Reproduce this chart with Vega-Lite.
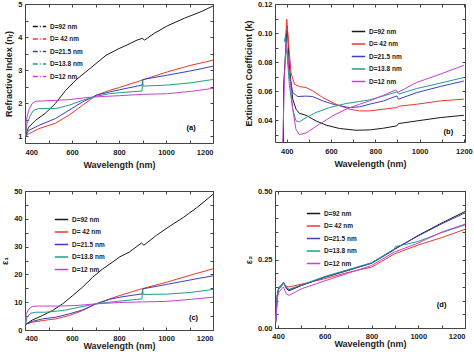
{
  "$schema": "https://vega.github.io/schema/vega-lite/v6.json",
  "padding": {"left": 0, "top": 0, "right": 0, "bottom": 0},
  "background": "white",
  "config": {
    "font": "Liberation Sans",
    "view": {"stroke": null},
    "axis": {
      "labelFont": "Liberation Sans", "labelFontWeight": "bold", "labelFontSize": 7.5, "labelColor": "#222",
      "titleFont": "Liberation Sans", "titleFontWeight": "bold", "titleFontSize": 9, "titleColor": "#222",
      "domainColor": "#444", "tickColor": "#444", "grid": false, "tickSize": -3, "labelPadding": 6, "titlePadding": 4
    },
    "axisX": {"labelPadding": 8, "titlePadding": 5},
    "legend": {
      "labelFont": "Liberation Sans", "labelFontWeight": "bold", "labelFontSize": 6.5, "labelColor": "#222",
      "symbolType": "stroke", "symbolStrokeWidth": 1.5, "symbolSize": 180, "rowPadding": 1.5, "labelOffset": 3, "padding": 0
    }
  },
  "resolve": {"scale": {"color": "independent"}, "legend": {"color": "independent"}},
  "columns": 2,
  "align": "each",
  "spacing": {"row": 17, "column": 30},
  "datasets": {
    "a": [
      {"s":"D=92 nm","x":402,"y":1.0},{"s":"D=92 nm","x":408,"y":1.15},{"s":"D=92 nm","x":416,"y":1.28},{"s":"D=92 nm","x":444,"y":1.48},{"s":"D=92 nm","x":487,"y":1.7},{"s":"D=92 nm","x":530,"y":2.0},{"s":"D=92 nm","x":573,"y":2.39},{"s":"D=92 nm","x":616,"y":2.7},{"s":"D=92 nm","x":659,"y":2.95},{"s":"D=92 nm","x":702,"y":3.2},{"s":"D=92 nm","x":745,"y":3.45},{"s":"D=92 nm","x":796,"y":3.64},{"s":"D=92 nm","x":834,"y":3.76},{"s":"D=92 nm","x":877,"y":3.91},{"s":"D=92 nm","x":899,"y":3.96},{"s":"D=92 nm","x":909,"y":3.91},{"s":"D=92 nm","x":949,"y":4.11},{"s":"D=92 nm","x":1006,"y":4.34},{"s":"D=92 nm","x":1078,"y":4.57},{"s":"D=92 nm","x":1150,"y":4.77},{"s":"D=92 nm","x":1200,"y":4.94},
      {"s":"D= 42 nm","x":402,"y":1.0},{"s":"D= 42 nm","x":416,"y":1.08},{"s":"D= 42 nm","x":458,"y":1.23},{"s":"D= 42 nm","x":530,"y":1.4},{"s":"D= 42 nm","x":587,"y":1.64},{"s":"D= 42 nm","x":645,"y":1.94},{"s":"D= 42 nm","x":702,"y":2.24},{"s":"D= 42 nm","x":759,"y":2.39},{"s":"D= 42 nm","x":803,"y":2.48},{"s":"D= 42 nm","x":899,"y":2.7},{"s":"D= 42 nm","x":1006,"y":2.95},{"s":"D= 42 nm","x":1106,"y":3.15},{"s":"D= 42 nm","x":1200,"y":3.3},
      {"s":"D=21.5 nm","x":402,"y":1.0},{"s":"D=21.5 nm","x":416,"y":1.18},{"s":"D=21.5 nm","x":458,"y":1.33},{"s":"D=21.5 nm","x":530,"y":1.54},{"s":"D=21.5 nm","x":587,"y":1.79},{"s":"D=21.5 nm","x":645,"y":2.04},{"s":"D=21.5 nm","x":702,"y":2.24},{"s":"D=21.5 nm","x":759,"y":2.34},{"s":"D=21.5 nm","x":803,"y":2.41},{"s":"D=21.5 nm","x":898,"y":2.55},{"s":"D=21.5 nm","x":902,"y":2.72},{"s":"D=21.5 nm","x":1006,"y":2.85},{"s":"D=21.5 nm","x":1106,"y":2.98},{"s":"D=21.5 nm","x":1200,"y":3.12},
      {"s":"D=13.8 nm","x":402,"y":1.0},{"s":"D=13.8 nm","x":409,"y":1.39},{"s":"D=13.8 nm","x":423,"y":1.64},{"s":"D=13.8 nm","x":437,"y":1.79},{"s":"D=13.8 nm","x":458,"y":1.84},{"s":"D=13.8 nm","x":530,"y":1.84},{"s":"D=13.8 nm","x":587,"y":1.94},{"s":"D=13.8 nm","x":645,"y":2.09},{"s":"D=13.8 nm","x":702,"y":2.21},{"s":"D=13.8 nm","x":759,"y":2.29},{"s":"D=13.8 nm","x":803,"y":2.32},{"s":"D=13.8 nm","x":898,"y":2.37},{"s":"D=13.8 nm","x":900,"y":2.73},{"s":"D=13.8 nm","x":903,"y":2.52},{"s":"D=13.8 nm","x":1006,"y":2.55},{"s":"D=13.8 nm","x":1106,"y":2.62},{"s":"D=13.8 nm","x":1200,"y":2.72},
      {"s":"D=12 nm","x":402,"y":1.0},{"s":"D=12 nm","x":405,"y":1.48},{"s":"D=12 nm","x":416,"y":1.79},{"s":"D=12 nm","x":430,"y":1.99},{"s":"D=12 nm","x":444,"y":2.06},{"s":"D=12 nm","x":473,"y":2.07},{"s":"D=12 nm","x":587,"y":2.11},{"s":"D=12 nm","x":673,"y":2.18},{"s":"D=12 nm","x":745,"y":2.21},{"s":"D=12 nm","x":803,"y":2.23},{"s":"D=12 nm","x":899,"y":2.27},{"s":"D=12 nm","x":1006,"y":2.29},{"s":"D=12 nm","x":1106,"y":2.36},{"s":"D=12 nm","x":1200,"y":2.45}
    ],
    "b": [
      {"s":"D=92 nm","x":385,"y":0.025},{"s":"D=92 nm","x":386,"y":0.064},{"s":"D=92 nm","x":396,"y":0.09},{"s":"D=92 nm","x":402,"y":0.105},{"s":"D=92 nm","x":412,"y":0.0774},{"s":"D=92 nm","x":427,"y":0.0545},{"s":"D=92 nm","x":442,"y":0.0476},{"s":"D=92 nm","x":457,"y":0.0448},{"s":"D=92 nm","x":487,"y":0.0434},{"s":"D=92 nm","x":532,"y":0.0395},{"s":"D=92 nm","x":578,"y":0.0366},{"s":"D=92 nm","x":638,"y":0.0343},{"s":"D=92 nm","x":713,"y":0.0331},{"s":"D=92 nm","x":774,"y":0.0333},{"s":"D=92 nm","x":837,"y":0.0345},{"s":"D=92 nm","x":897,"y":0.0361},{"s":"D=92 nm","x":905,"y":0.0377},{"s":"D=92 nm","x":987,"y":0.0395},{"s":"D=92 nm","x":1093,"y":0.0418},{"s":"D=92 nm","x":1200,"y":0.0434},
      {"s":"D= 42 nm","x":394,"y":0.095},{"s":"D= 42 nm","x":400,"y":0.1095},{"s":"D= 42 nm","x":419,"y":0.0728},{"s":"D= 42 nm","x":435,"y":0.0648},{"s":"D= 42 nm","x":457,"y":0.0632},{"s":"D= 42 nm","x":487,"y":0.0625},{"s":"D= 42 nm","x":517,"y":0.0602},{"s":"D= 42 nm","x":563,"y":0.0556},{"s":"D= 42 nm","x":623,"y":0.051},{"s":"D= 42 nm","x":683,"y":0.0476},{"s":"D= 42 nm","x":729,"y":0.0464},{"s":"D= 42 nm","x":774,"y":0.0464},{"s":"D= 42 nm","x":837,"y":0.0476},{"s":"D= 42 nm","x":897,"y":0.0487},{"s":"D= 42 nm","x":908,"y":0.0497},{"s":"D= 42 nm","x":987,"y":0.051},{"s":"D= 42 nm","x":1093,"y":0.0533},{"s":"D= 42 nm","x":1200,"y":0.0545},
      {"s":"D=21.5 nm","x":391,"y":0.094},{"s":"D=21.5 nm","x":395,"y":0.0985},{"s":"D=21.5 nm","x":412,"y":0.0705},{"s":"D=21.5 nm","x":427,"y":0.0591},{"s":"D=21.5 nm","x":449,"y":0.0563},{"s":"D=21.5 nm","x":487,"y":0.0566},{"s":"D=21.5 nm","x":517,"y":0.0563},{"s":"D=21.5 nm","x":563,"y":0.0533},{"s":"D=21.5 nm","x":623,"y":0.0504},{"s":"D=21.5 nm","x":683,"y":0.0487},{"s":"D=21.5 nm","x":729,"y":0.0492},{"s":"D=21.5 nm","x":774,"y":0.051},{"s":"D=21.5 nm","x":837,"y":0.0533},{"s":"D=21.5 nm","x":897,"y":0.0567},{"s":"D=21.5 nm","x":905,"y":0.0545},{"s":"D=21.5 nm","x":987,"y":0.059},{"s":"D=21.5 nm","x":1093,"y":0.0632},{"s":"D=21.5 nm","x":1200,"y":0.067},
      {"s":"D=13.8 nm","x":391,"y":0.094},{"s":"D=13.8 nm","x":395,"y":0.098},{"s":"D=13.8 nm","x":412,"y":0.064},{"s":"D=13.8 nm","x":427,"y":0.0476},{"s":"D=13.8 nm","x":442,"y":0.0395},{"s":"D=13.8 nm","x":457,"y":0.0388},{"s":"D=13.8 nm","x":487,"y":0.0418},{"s":"D=13.8 nm","x":532,"y":0.0453},{"s":"D=13.8 nm","x":593,"y":0.0487},{"s":"D=13.8 nm","x":668,"y":0.0515},{"s":"D=13.8 nm","x":729,"y":0.0529},{"s":"D=13.8 nm","x":774,"y":0.054},{"s":"D=13.8 nm","x":837,"y":0.0567},{"s":"D=13.8 nm","x":897,"y":0.0595},{"s":"D=13.8 nm","x":905,"y":0.058},{"s":"D=13.8 nm","x":987,"y":0.0618},{"s":"D=13.8 nm","x":1093,"y":0.0655},{"s":"D=13.8 nm","x":1200,"y":0.0694},
      {"s":"D=12 nm","x":382,"y":0.025},{"s":"D=12 nm","x":390,"y":0.07},{"s":"D=12 nm","x":397,"y":0.0935},{"s":"D=12 nm","x":412,"y":0.0728},{"s":"D=12 nm","x":427,"y":0.0476},{"s":"D=12 nm","x":442,"y":0.0335},{"s":"D=12 nm","x":457,"y":0.0301},{"s":"D=12 nm","x":487,"y":0.0312},{"s":"D=12 nm","x":548,"y":0.0373},{"s":"D=12 nm","x":608,"y":0.043},{"s":"D=12 nm","x":668,"y":0.0476},{"s":"D=12 nm","x":729,"y":0.051},{"s":"D=12 nm","x":774,"y":0.0533},{"s":"D=12 nm","x":837,"y":0.0572},{"s":"D=12 nm","x":890,"y":0.0608},{"s":"D=12 nm","x":905,"y":0.0594},{"s":"D=12 nm","x":987,"y":0.066},{"s":"D=12 nm","x":1093,"y":0.0717},{"s":"D=12 nm","x":1200,"y":0.0778}
    ],
    "c": [
      {"s":"D=92 nm","x":402,"y":2.0},{"s":"D=92 nm","x":431,"y":3.6},{"s":"D=92 nm","x":474,"y":5.2},{"s":"D=92 nm","x":517,"y":7.0},{"s":"D=92 nm","x":560,"y":9.4},{"s":"D=92 nm","x":603,"y":12.4},{"s":"D=92 nm","x":645,"y":15.4},{"s":"D=92 nm","x":688,"y":19.0},{"s":"D=92 nm","x":731,"y":22.0},{"s":"D=92 nm","x":774,"y":24.5},{"s":"D=92 nm","x":803,"y":26.3},{"s":"D=92 nm","x":845,"y":28.1},{"s":"D=92 nm","x":896,"y":31.3},{"s":"D=92 nm","x":906,"y":30.5},{"s":"D=92 nm","x":960,"y":34.1},{"s":"D=92 nm","x":1017,"y":37.4},{"s":"D=92 nm","x":1074,"y":40.5},{"s":"D=92 nm","x":1131,"y":44.0},{"s":"D=92 nm","x":1200,"y":48.8},
      {"s":"D= 42 nm","x":402,"y":2.0},{"s":"D= 42 nm","x":431,"y":2.8},{"s":"D= 42 nm","x":474,"y":3.4},{"s":"D= 42 nm","x":531,"y":4.0},{"s":"D= 42 nm","x":588,"y":5.2},{"s":"D= 42 nm","x":645,"y":7.0},{"s":"D= 42 nm","x":702,"y":9.4},{"s":"D= 42 nm","x":760,"y":11.2},{"s":"D= 42 nm","x":803,"y":12.4},{"s":"D= 42 nm","x":896,"y":14.8},{"s":"D= 42 nm","x":1003,"y":17.2},{"s":"D= 42 nm","x":1103,"y":19.7},{"s":"D= 42 nm","x":1200,"y":22.0},
      {"s":"D=21.5 nm","x":402,"y":2.0},{"s":"D=21.5 nm","x":431,"y":3.1},{"s":"D=21.5 nm","x":474,"y":4.0},{"s":"D=21.5 nm","x":531,"y":4.6},{"s":"D=21.5 nm","x":588,"y":5.8},{"s":"D=21.5 nm","x":645,"y":7.2},{"s":"D=21.5 nm","x":702,"y":9.4},{"s":"D=21.5 nm","x":760,"y":11.0},{"s":"D=21.5 nm","x":803,"y":11.8},{"s":"D=21.5 nm","x":898,"y":13.0},{"s":"D=21.5 nm","x":902,"y":14.8},{"s":"D=21.5 nm","x":1003,"y":16.4},{"s":"D=21.5 nm","x":1103,"y":18.0},{"s":"D=21.5 nm","x":1200,"y":19.5},
      {"s":"D=13.8 nm","x":402,"y":2.0},{"s":"D=13.8 nm","x":409,"y":4.6},{"s":"D=13.8 nm","x":423,"y":6.0},{"s":"D=13.8 nm","x":445,"y":6.4},{"s":"D=13.8 nm","x":488,"y":6.4},{"s":"D=13.8 nm","x":560,"y":7.0},{"s":"D=13.8 nm","x":631,"y":8.2},{"s":"D=13.8 nm","x":702,"y":9.4},{"s":"D=13.8 nm","x":760,"y":10.0},{"s":"D=13.8 nm","x":803,"y":10.4},{"s":"D=13.8 nm","x":898,"y":11.2},{"s":"D=13.8 nm","x":900,"y":14.8},{"s":"D=13.8 nm","x":903,"y":12.8},{"s":"D=13.8 nm","x":1003,"y":12.9},{"s":"D=13.8 nm","x":1103,"y":13.5},{"s":"D=13.8 nm","x":1200,"y":14.6},
      {"s":"D=12 nm","x":402,"y":2.0},{"s":"D=12 nm","x":405,"y":5.8},{"s":"D=12 nm","x":417,"y":7.6},{"s":"D=12 nm","x":431,"y":8.5},{"s":"D=12 nm","x":452,"y":8.6},{"s":"D=12 nm","x":531,"y":8.6},{"s":"D=12 nm","x":617,"y":8.8},{"s":"D=12 nm","x":702,"y":9.4},{"s":"D=12 nm","x":803,"y":9.9},{"s":"D=12 nm","x":896,"y":10.1},{"s":"D=12 nm","x":1003,"y":10.3},{"s":"D=12 nm","x":1103,"y":11.0},{"s":"D=12 nm","x":1200,"y":11.8}
    ],
    "d": [
      {"s":"D=92 nm","x":390,"y":0.02},{"s":"D=92 nm","x":397,"y":0.12},{"s":"D=92 nm","x":403,"y":0.145},{"s":"D=92 nm","x":418,"y":0.158},{"s":"D=92 nm","x":423,"y":0.166},{"s":"D=92 nm","x":435,"y":0.145},{"s":"D=92 nm","x":447,"y":0.136},{"s":"D=92 nm","x":500,"y":0.155},{"s":"D=92 nm","x":600,"y":0.186},{"s":"D=92 nm","x":700,"y":0.211},{"s":"D=92 nm","x":800,"y":0.237},{"s":"D=92 nm","x":897,"y":0.287},{"s":"D=92 nm","x":905,"y":0.29},{"s":"D=92 nm","x":1000,"y":0.338},{"s":"D=92 nm","x":1100,"y":0.383},{"s":"D=92 nm","x":1200,"y":0.425},
      {"s":"D= 42 nm","x":390,"y":0.02},{"s":"D= 42 nm","x":397,"y":0.115},{"s":"D= 42 nm","x":403,"y":0.14},{"s":"D= 42 nm","x":418,"y":0.156},{"s":"D= 42 nm","x":423,"y":0.163},{"s":"D= 42 nm","x":435,"y":0.153},{"s":"D= 42 nm","x":447,"y":0.15},{"s":"D= 42 nm","x":500,"y":0.16},{"s":"D= 42 nm","x":600,"y":0.18},{"s":"D= 42 nm","x":700,"y":0.203},{"s":"D= 42 nm","x":800,"y":0.222},{"s":"D= 42 nm","x":897,"y":0.27},{"s":"D= 42 nm","x":1000,"y":0.303},{"s":"D= 42 nm","x":1100,"y":0.33},{"s":"D= 42 nm","x":1200,"y":0.36},
      {"s":"D=21.5 nm","x":390,"y":0.025},{"s":"D=21.5 nm","x":397,"y":0.125},{"s":"D=21.5 nm","x":403,"y":0.148},{"s":"D=21.5 nm","x":418,"y":0.16},{"s":"D=21.5 nm","x":423,"y":0.167},{"s":"D=21.5 nm","x":435,"y":0.15},{"s":"D=21.5 nm","x":447,"y":0.14},{"s":"D=21.5 nm","x":500,"y":0.156},{"s":"D=21.5 nm","x":600,"y":0.185},{"s":"D=21.5 nm","x":700,"y":0.21},{"s":"D=21.5 nm","x":800,"y":0.236},{"s":"D=21.5 nm","x":897,"y":0.285},{"s":"D=21.5 nm","x":905,"y":0.292},{"s":"D=21.5 nm","x":1000,"y":0.336},{"s":"D=21.5 nm","x":1100,"y":0.38},{"s":"D=21.5 nm","x":1200,"y":0.42},
      {"s":"D=13.8 nm","x":390,"y":0.025},{"s":"D=13.8 nm","x":397,"y":0.12},{"s":"D=13.8 nm","x":403,"y":0.145},{"s":"D=13.8 nm","x":418,"y":0.158},{"s":"D=13.8 nm","x":423,"y":0.165},{"s":"D=13.8 nm","x":435,"y":0.148},{"s":"D=13.8 nm","x":447,"y":0.141},{"s":"D=13.8 nm","x":500,"y":0.157},{"s":"D=13.8 nm","x":600,"y":0.188},{"s":"D=13.8 nm","x":700,"y":0.213},{"s":"D=13.8 nm","x":800,"y":0.238},{"s":"D=13.8 nm","x":897,"y":0.288},{"s":"D=13.8 nm","x":902,"y":0.297},{"s":"D=13.8 nm","x":1000,"y":0.316},{"s":"D=13.8 nm","x":1100,"y":0.348},{"s":"D=13.8 nm","x":1200,"y":0.376},
      {"s":"D=12 nm","x":390,"y":0.02},{"s":"D=12 nm","x":397,"y":0.11},{"s":"D=12 nm","x":403,"y":0.13},{"s":"D=12 nm","x":418,"y":0.145},{"s":"D=12 nm","x":423,"y":0.15},{"s":"D=12 nm","x":435,"y":0.125},{"s":"D=12 nm","x":447,"y":0.119},{"s":"D=12 nm","x":500,"y":0.143},{"s":"D=12 nm","x":600,"y":0.172},{"s":"D=12 nm","x":700,"y":0.2},{"s":"D=12 nm","x":800,"y":0.228},{"s":"D=12 nm","x":897,"y":0.277},{"s":"D=12 nm","x":1000,"y":0.31},{"s":"D=12 nm","x":1100,"y":0.35},{"s":"D=12 nm","x":1200,"y":0.379}
    ]
  },
  "concat": [
    {
      "width": 188, "height": 139,
      "resolve": {"axis": {"x": "independent", "y": "independent"}},
      "layer": [
        {"data": {"name": "a"}, "mark": {"type": "line", "strokeWidth": 1, "clip": true},
         "encoding": {
           "x": {"field": "x", "type": "quantitative", "scale": {"domain": [400, 1200], "nice": false, "zero": false},
                 "axis": {"orient": "bottom", "title": "Wavelength (nm)", "values": [400,500,600,700,800,900,1000,1100,1200], "labelExpr": "datum.value % 200 == 0 ? datum.label : ''", "format": "d"}},
           "y": {"field": "y", "type": "quantitative", "scale": {"domain": [0.8, 5], "nice": false, "zero": false},
                 "axis": {"orient": "left", "title": "Refractive Index (nᵣ)", "values": [1,1.5,2,2.5,3,3.5,4,4.5,5], "labelExpr": "datum.value % 1 == 0 ? datum.label : ''", "format": ".0f"}},
           "color": {"field": "s", "type": "nominal", "sort": null,
                     "scale": {"domain": ["D=92 nm","D= 42 nm","D=21.5 nm","D=13.8 nm","D=12 nm"], "range": ["#1a1a1a","#f2352b","#3b3fc6","#1f9e86","#c83fd6"]},
                     "legend": {"orient": "none", "legendX": 7, "legendY": 15, "title": null, "symbolDash": [5, 2, 1, 2]}}
         }},
        {"data": {"values": [{"x": 1107, "y": 1.24, "t": "(a)"}]}, "mark": {"type": "text", "fontWeight": "bold", "fontSize": 7.5, "font": "Liberation Sans"},
         "encoding": {
           "x": {"field": "x", "type": "quantitative", "scale": {"domain": [400, 1200], "nice": false, "zero": false},
                 "axis": {"orient": "top", "labels": false, "title": null, "values": [400,500,600,700,800,900,1000,1100,1200]}},
           "y": {"field": "y", "type": "quantitative", "scale": {"domain": [0.8, 5], "nice": false, "zero": false},
                 "axis": {"orient": "right", "labels": false, "title": null, "values": [1,1.5,2,2.5,3,3.5,4,4.5,5]}},
           "text": {"field": "t"}
         }}
      ]
    },
    {
      "width": 190, "height": 138,
      "resolve": {"axis": {"x": "independent", "y": "independent"}},
      "layer": [
        {"data": {"name": "b"}, "mark": {"type": "line", "strokeWidth": 1, "clip": true},
         "encoding": {
           "x": {"field": "x", "type": "quantitative", "scale": {"domain": [347, 1205], "nice": false, "zero": false},
                 "axis": {"orient": "bottom", "title": "Wavelength (nm)", "values": [400,500,600,700,800,900,1000,1100,1200], "labelExpr": "datum.value % 200 == 0 ? datum.label : ''", "format": "d"}},
           "y": {"field": "y", "type": "quantitative", "scale": {"domain": [0.025, 0.12], "nice": false, "zero": false},
                 "axis": {"orient": "left", "title": "Extinction Coefficient (k)", "values": [0.03,0.04,0.05,0.06,0.07,0.08,0.09,0.1,0.11,0.12], "labelExpr": "round(datum.value*100) % 2 == 0 ? datum.label : ''", "format": ".2f"}},
           "color": {"field": "s", "type": "nominal", "sort": null,
                     "scale": {"domain": ["D=92 nm","D= 42 nm","D=21.5 nm","D=13.8 nm","D=12 nm"], "range": ["#1a1a1a","#f2352b","#3b3fc6","#1f9e86","#c83fd6"]},
                     "legend": {"orient": "none", "legendX": 76, "legendY": 20, "title": null}}
         }},
        {"data": {"values": [{"x": 1130, "y": 0.0316, "t": "(b)"}]}, "mark": {"type": "text", "fontWeight": "bold", "fontSize": 7.5, "font": "Liberation Sans"},
         "encoding": {
           "x": {"field": "x", "type": "quantitative", "scale": {"domain": [347, 1205], "nice": false, "zero": false},
                 "axis": {"orient": "top", "labels": false, "title": null, "values": [400,500,600,700,800,900,1000,1100,1200]}},
           "y": {"field": "y", "type": "quantitative", "scale": {"domain": [0.025, 0.12], "nice": false, "zero": false},
                 "axis": {"orient": "right", "labels": false, "title": null, "values": [0.03,0.04,0.05,0.06,0.07,0.08,0.09,0.1,0.11,0.12]}},
           "text": {"field": "t"}
         }}
      ]
    },
    {
      "width": 188, "height": 139,
      "resolve": {"axis": {"x": "independent", "y": "independent"}},
      "layer": [
        {"data": {"name": "c"}, "mark": {"type": "line", "strokeWidth": 1, "clip": true},
         "encoding": {
           "x": {"field": "x", "type": "quantitative", "scale": {"domain": [400, 1200], "nice": false, "zero": false},
                 "axis": {"orient": "bottom", "title": "Wavelength (nm)", "titlePadding": 0, "labelPadding": 7, "values": [400,500,600,700,800,900,1000,1100,1200], "labelExpr": "datum.value % 200 == 0 ? datum.label : ''", "format": "d"}},
           "y": {"field": "y", "type": "quantitative", "scale": {"domain": [0, 50], "nice": false, "zero": false},
                 "axis": {"orient": "left", "title": "ε₁", "values": [0,5,10,15,20,25,30,35,40,45,50], "labelExpr": "datum.value % 10 == 0 ? datum.label : ''", "format": "d"}},
           "color": {"field": "s", "type": "nominal", "sort": null,
                     "scale": {"domain": ["D=92 nm","D= 42 nm","D=21.5 nm","D=13.8 nm","D=12 nm"], "range": ["#1a1a1a","#f2352b","#3b3fc6","#1f9e86","#c83fd6"]},
                     "legend": {"orient": "none", "legendX": 29, "legendY": 21, "title": null}}
         }},
        {"data": {"values": [{"x": 1117, "y": 4.2, "t": "(c)"}]}, "mark": {"type": "text", "fontWeight": "bold", "fontSize": 7.5, "font": "Liberation Sans"},
         "encoding": {
           "x": {"field": "x", "type": "quantitative", "scale": {"domain": [400, 1200], "nice": false, "zero": false},
                 "axis": {"orient": "top", "labels": false, "title": null, "values": [400,500,600,700,800,900,1000,1100,1200]}},
           "y": {"field": "y", "type": "quantitative", "scale": {"domain": [0, 50], "nice": false, "zero": false},
                 "axis": {"orient": "right", "labels": false, "title": null, "values": [0,5,10,15,20,25,30,35,40,45,50]}},
           "text": {"field": "t"}
         }}
      ]
    },
    {
      "width": 190, "height": 137,
      "resolve": {"axis": {"x": "independent", "y": "independent"}},
      "layer": [
        {"data": {"name": "d"}, "mark": {"type": "line", "strokeWidth": 1, "clip": true},
         "encoding": {
           "x": {"field": "x", "type": "quantitative", "scale": {"domain": [387, 1200], "nice": false, "zero": false},
                 "axis": {"orient": "bottom", "title": "Wavelength (nm)", "titlePadding": 0, "labelPadding": 7, "values": [400,500,600,700,800,900,1000,1100,1200], "labelExpr": "datum.value % 200 == 0 ? datum.label : ''", "format": "d"}},
           "y": {"field": "y", "type": "quantitative", "scale": {"domain": [0, 0.5], "nice": false, "zero": false},
                 "axis": {"orient": "left", "title": "ε₂", "values": [0,0.05,0.1,0.15,0.2,0.25,0.3,0.35,0.4,0.45,0.5], "labelExpr": "round(datum.value*100) % 25 == 0 ? datum.label : ''", "format": ".2f"}},
           "color": {"field": "s", "type": "nominal", "sort": null,
                     "scale": {"domain": ["D=92 nm","D= 42 nm","D=21.5 nm","D=13.8 nm","D=12 nm"], "range": ["#1a1a1a","#f2352b","#3b3fc6","#1f9e86","#c83fd6"]},
                     "legend": {"orient": "none", "legendX": 31, "legendY": 15, "title": null}}
         }},
        {"data": {"values": [{"x": 1100, "y": 0.083, "t": "(d)"}]}, "mark": {"type": "text", "fontWeight": "bold", "fontSize": 7.5, "font": "Liberation Sans"},
         "encoding": {
           "x": {"field": "x", "type": "quantitative", "scale": {"domain": [387, 1200], "nice": false, "zero": false},
                 "axis": {"orient": "top", "labels": false, "title": null, "values": [400,500,600,700,800,900,1000,1100,1200]}},
           "y": {"field": "y", "type": "quantitative", "scale": {"domain": [0, 0.5], "nice": false, "zero": false},
                 "axis": {"orient": "right", "labels": false, "title": null, "values": [0,0.05,0.1,0.15,0.2,0.25,0.3,0.35,0.4,0.45,0.5]}},
           "text": {"field": "t"}
         }}
      ]
    }
  ]
}
